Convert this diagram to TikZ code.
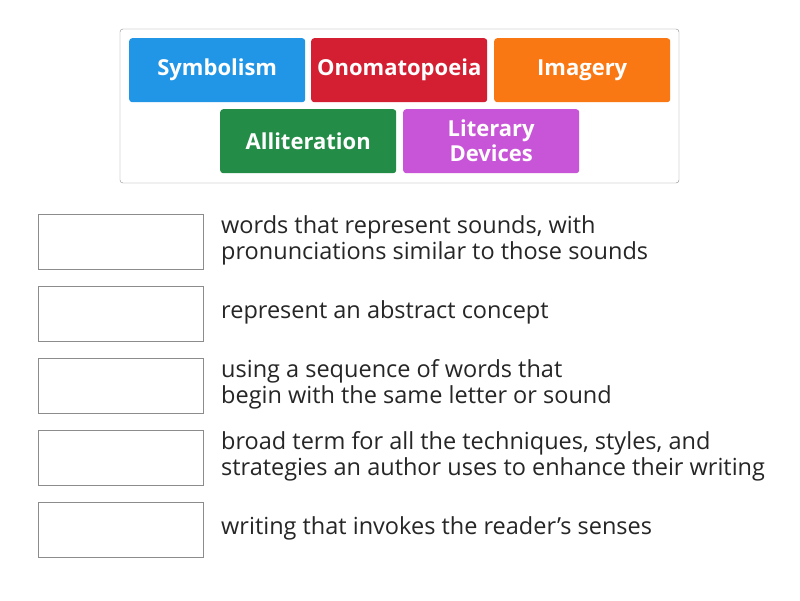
\documentclass[tikz,border=0pt]{standalone}
\usepackage{fontspec}
\setmainfont{Open Sans}
\begin{document}
\begin{tikzpicture}[x=1pt,y=-1pt,
  tile/.style={rounded corners=3pt,minimum width=176pt,minimum height=64pt,anchor=north west,inner sep=0pt,text=white,font=\fontsize{22}{25}\selectfont\bfseries,align=center},
  slot/.style={draw=black!45,minimum width=165pt,minimum height=55pt,anchor=north west,inner sep=0pt},
  desc/.style={anchor=west,align=left,font=\fontsize{23.5}{26}\selectfont,inner sep=0pt,text=black!85}]
\useasboundingbox (0,0) rectangle (800,600);
\fill[white] (0,0) rectangle (800,600);
\draw[black!45,rounded corners=3pt] (120,29) rectangle (679,183);
\node[tile,fill={rgb,255:red,33;green,150;blue,230}] (t1) at (129,38) {Symbolism};
\node[tile,fill={rgb,255:red,212;green,30;blue,50}] (t2) at (311,38) {Onomatopoeia};
\node[tile,fill={rgb,255:red,250;green,120;blue,20}] (t3) at (494,38) {Imagery};
\node[tile,fill={rgb,255:red,35;green,140;blue,70}] (t4) at (220,109) {Alliteration};
\node[tile,fill={rgb,255:red,200;green,85;blue,215}] (t5) at (403,109) {Literary\\Devices};
\node[slot] (s1) at (38,214) {};
\node[slot] (s2) at (38,286) {};
\node[slot] (s3) at (38,358) {};
\node[slot] (s4) at (38,430) {};
\node[slot] (s5) at (38,502) {};
\node[desc] (d1) at (221,240) {words that represent sounds, with\\pronunciations similar to those sounds};
\node[desc] (d2) at (221,312) {represent an abstract concept};
\node[desc] (d3) at (221,384) {using a sequence of words that\\begin with the same letter or sound};
\node[desc] (d4) at (221,456) {broad term for all the techniques, styles, and\\strategies an author uses to enhance their writing};
\node[desc] (d5) at (221,528) {writing that invokes the reader’s senses};
\end{tikzpicture}
\end{document}
